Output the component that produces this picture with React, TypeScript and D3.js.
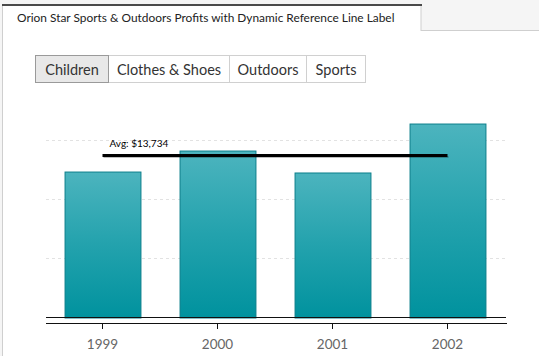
import React from "react";
import * as d3 from "d3";

const years = ["1999", "2000", "2001", "2002"];
const profits = [12300, 14070, 12220, 16346];
const gridTicks = [5000, 10000, 15000];
const buttons = ["Children", "Clothes & Shoes", "Outdoors", "Sports"];
const title = "Orion Star Sports & Outdoors Profits with Dynamic Reference Line Label";

export default function App() {
  const W = 539, H = 356;
  const x = d3.scaleBand<string>().domain(years).range([45, 505]).paddingInner(0.34).paddingOuter(0.17);
  const y = d3.scaleLinear().domain([0, 15000]).range([317.5, 139.5]);
  const avg = d3.mean(profits) as number;
  const fmt = d3.format("$,.0f");
  const cx = (d: string) => (x(d) as number) + x.bandwidth() / 2;
  const ax0 = cx(years[0]);
  const ax1 = cx(years[years.length - 1]);
  const ay = Math.round(y(avg));

  const btnWidths = [73, 121, 77, 59];
  let bx = 35.5;
  const btnX = btnWidths.map((w) => { const s = bx; bx += w; return s; });

  return (
    <svg width={W} height={H} style={{ position: "absolute", left: 0, top: 0, fontFamily: "Lato, 'Open Sans', sans-serif" }}>
      <defs>
        <linearGradient id="barGrad" x1="0" y1="0" x2="0" y2="1">
          <stop offset="0" stopColor="#4cb4be" />
          <stop offset="0.5" stopColor="#23a2ad" />
          <stop offset="1" stopColor="#00929e" />
        </linearGradient>
      </defs>
      <rect x={0} y={0} width={W} height={H} fill="#f5f5f5" />
      <rect x={2.5} y={30.5} width={W} height={H} fill="#fff" stroke="#cfcfcf" />
      <rect x={2.5} y={4.5} width={418.5} height={40} fill="#fff" stroke="#cfcfcf" />
      <rect x={3} y={31} width={W} height={H} fill="#fff" />
      <rect x={2} y={4} width={420} height={2} fill="#4a4a4a" />
      <text x={17} y={22} fontSize={11.9} fill="#222">{title}</text>

      {buttons.map((b, i) => (
        <g key={b}>
          <rect x={btnX[i]} y={55.5} width={btnWidths[i]} height={27} fill={i === 0 ? "#e8e8e8" : "#fff"} stroke={i === 0 ? "#9a9a9a" : "#d0d0d0"} />
          <text x={btnX[i] + btnWidths[i] / 2} y={74.5} fontSize={14.5} textAnchor="middle" fill="#333">{b}</text>
        </g>
      ))}
      <rect x={btnX[0]} y={55.5} width={btnWidths[0]} height={27} fill="none" stroke="#9a9a9a" />

      {gridTicks.map((t) => (
        <line key={t} x1={46} x2={506} y1={Math.round(y(t)) + 0.5} y2={Math.round(y(t)) + 0.5} stroke="#e2e2e2" strokeDasharray="3,3" />
      ))}

      {years.map((yr, i) => (
        <rect key={yr} x={(x(yr) as number) + 0.5} y={y(profits[i]) + 0.5} width={x.bandwidth()} height={y(0) - y(profits[i])}
          fill="url(#barGrad)" stroke="#0c7f8b" strokeWidth={1} />
      ))}

      <line x1={46} x2={506} y1={317.5} y2={317.5} stroke="#111" />
      <line x1={46} x2={507} y1={323.5} y2={323.5} stroke="#111" />
      {years.map((yr) => (
        <g key={yr}>
          <line x1={Math.round(cx(yr)) + 0.5} x2={Math.round(cx(yr)) + 0.5} y1={323.5} y2={329} stroke="#111" />
          <text x={cx(yr)} y={349} fontSize={13.5} textAnchor="middle" fill="#666">{yr}</text>
        </g>
      ))}

      <line x1={ax0 + 1} x2={ax1 + 1} y1={ay + 2} y2={ay + 2} stroke="#000" strokeOpacity={0.25} strokeWidth={2} />
      <line x1={ax0} x2={ax1} y1={ay + 0.5} y2={ay + 0.5} stroke="#000" strokeWidth={3} />
      <text x={ax0 + 7} y={ay - 8} fontSize={10} fill="#000">{"Avg: " + fmt(avg)}</text>
    </svg>
  );
}
